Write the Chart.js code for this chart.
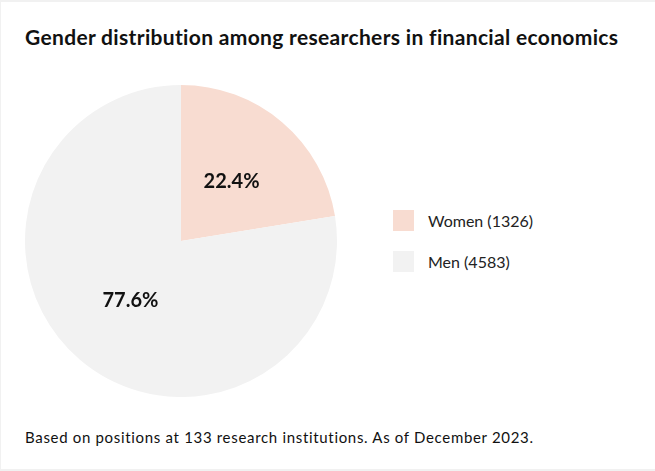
<!DOCTYPE html>
<html>
<head>
<meta charset="utf-8">
<script src="https://cdn.jsdelivr.net/npm/chart.js@4.4.1/dist/chart.umd.min.js"></script>
<style>
    html, body { margin: 0; padding: 0; }
    body { width: 655px; height: 471px; background: #f1f1f1; position: relative; overflow: hidden; font-family: 'Lato', sans-serif; }
    #card { position: absolute; left: 1px; top: 2px; width: 654px; height: 467px; background: #fff; }
    #titulo { position: absolute; left: 24px; top: 22px; font-size: 21px; font-weight: 700; letter-spacing: 0.33px; color: #111; white-space: nowrap; }
    #pieWrap { position: absolute; left: 24px; top: 83px; width: 312px; height: 312px; }
    #leyenda { position: absolute; left: 392px; top: 208px; }
    .item { display: flex; align-items: center; height: 21px; margin-bottom: 20px; font-size: 16px; color: #222; }
    .caja { width: 21px; height: 21px; margin-right: 14px; }
    #nota { position: absolute; left: 24px; top: 426px; font-size: 15px; letter-spacing: 0.68px; color: #111; white-space: nowrap; }
</style>
</head>
<body>
<div id="card">
    <div id="titulo">Gender distribution among researchers in financial economics</div>
    <div id="pieWrap"><canvas id="graficoPie"></canvas></div>
    <div id="leyenda"></div>
    <div id="nota">Based on positions at 133 research institutions. As of December 2023.</div>
</div>
<script>
const categorias = ['Women', 'Men'];
const conteos = [1326, 4583];
const porcentajes = [22.4, 77.6];
const colores = ['#f8dcd1', '#f2f2f2'];

document.addEventListener('DOMContentLoaded', function() {
    const leyenda = document.getElementById('leyenda');
    categorias.forEach((cat, i) => {
        const item = document.createElement('div');
        item.className = 'item';
        item.innerHTML = `<div class="caja" style="background:${colores[i]}"></div><span>${cat} (${conteos[i]})</span>`;
        leyenda.appendChild(item);
    });

    // etiquetas de porcentaje dentro de cada sector
    const etiquetasPlugin = {
        id: 'etiquetas',
        afterDatasetsDraw(chart) {
            const ctx = chart.ctx;
            const meta = chart.getDatasetMeta(0);
            ctx.save();
            ctx.font = '700 20px Lato';
            ctx.fillStyle = '#111';
            ctx.textAlign = 'center';
            ctx.textBaseline = 'middle';
            meta.data.forEach((arc, i) => {
                const p = arc.tooltipPosition();
                ctx.fillText(porcentajes[i].toFixed(1) + '%', p.x, p.y);
            });
            ctx.restore();
        }
    };

    new Chart(document.getElementById('graficoPie').getContext('2d'), {
        type: 'pie',
        data: {
            labels: categorias,
            datasets: [{
                data: conteos,
                backgroundColor: colores,
                borderWidth: 0
            }]
        },
        options: {
            responsive: true,
            maintainAspectRatio: false,
            animation: false,
            plugins: {
                legend: { display: false },
                tooltip: { enabled: false }
            }
        },
        plugins: [etiquetasPlugin]
    });
});
</script>
</body>
</html>
